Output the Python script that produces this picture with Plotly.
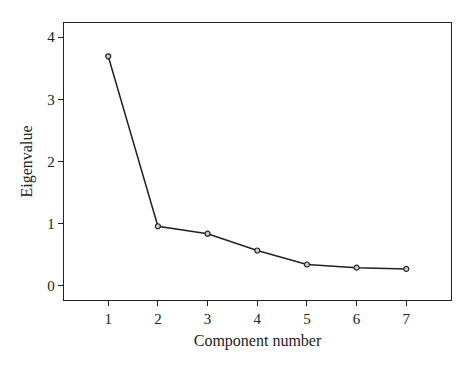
import plotly.graph_objects as go

components = [1, 2, 3, 4, 5, 6, 7]
eigenvalues = [3.69, 0.96, 0.84, 0.57, 0.345, 0.295, 0.275]

font_family = "Liberation Serif, DejaVu Serif, serif"

fig = go.Figure()
fig.add_trace(go.Scatter(
    x=components, y=eigenvalues, mode="lines+markers",
    line=dict(color="#222222", width=1.5),
    marker=dict(symbol="circle", size=5, color="#cccccc",
                line=dict(color="#222222", width=1.2)),
    showlegend=False,
))

fig.update_layout(
    width=474, height=372,
    margin=dict(l=64, r=23, t=23, b=72),
    paper_bgcolor="white", plot_bgcolor="white",
    font=dict(family=font_family, size=15, color="#222222"),
)
fig.update_xaxes(
    range=[0.11, 7.9], tickvals=components, ticktext=[str(c) for c in components],
    ticks="outside", ticklen=5, tickcolor="#222222", tickwidth=1.3,
    showline=True, linecolor="#222222", linewidth=1.3, mirror=True,
    showgrid=False, zeroline=False,
    title=dict(text="Component number", font=dict(size=16), standoff=8),
)
fig.update_yaxes(
    range=[-0.225, 4.225], tickvals=[0, 1, 2, 3, 4],
    ticks="outside", ticklen=5, tickcolor="#222222", tickwidth=1.3,
    showline=True, linecolor="#222222", linewidth=1.3, mirror=True,
    showgrid=False, zeroline=False,
    title=dict(text="Eigenvalue", font=dict(size=16), standoff=10),
)

fig.write_html("out.html")
